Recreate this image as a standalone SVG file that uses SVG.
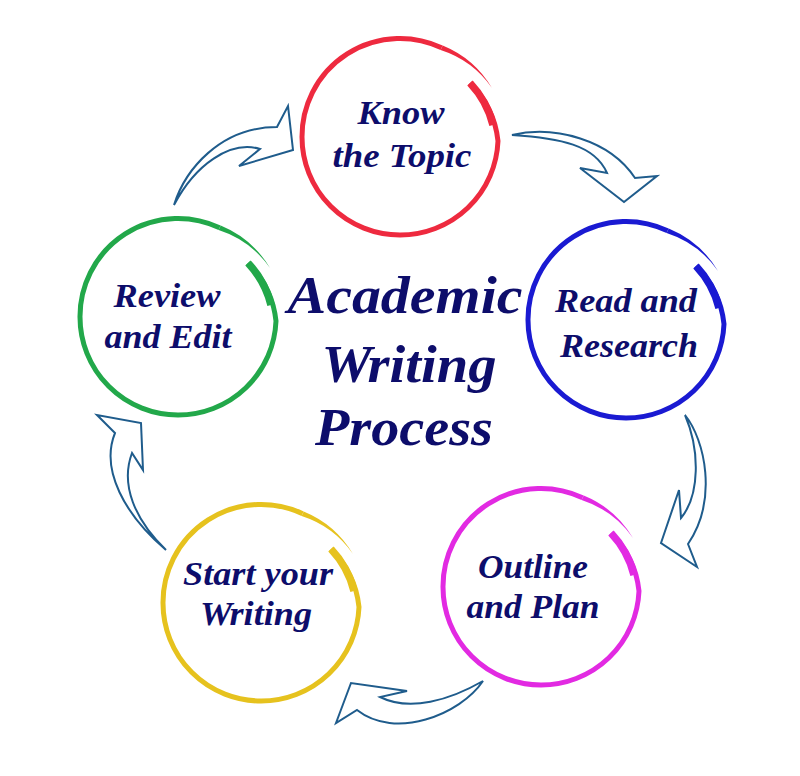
<svg xmlns="http://www.w3.org/2000/svg" xmlns:xlink="http://www.w3.org/1999/xlink" width="800" height="776" viewBox="0 0 800 776">
<style>
.ring{fill:none;stroke-width:5;stroke-linecap:butt}
.start{fill:none;stroke-width:7.5}
.tail{stroke:none}
.lbl{font-family:"Liberation Serif","Times New Roman",serif;font-weight:bold;font-style:italic;font-size:33px;fill:#0d0d6b;text-anchor:middle}
.title{font-family:"Liberation Serif","Times New Roman",serif;font-weight:bold;font-style:italic;font-size:53px;fill:#0d0d6b;text-anchor:middle}
.arr{fill:#fff;stroke:#1f5c8c;stroke-width:2;stroke-linejoin:miter}
</style>
<defs>
<g id="circ">
<path class="ring" d="M70,-54 A96 96 0 0 1 98,4 A98 98 0 0 1 0,98 A98 98 0 0 1 -98,0 A98 98 0 0 1 41.6,-89.3"/>
<path class="start" d="M70,-54 A95 95 0 0 1 93,-12"/>
<path class="tail" d="M42.7,-91.5 A103 103 0 0 1 92,-49 A100 100 0 0 0 40.6,-87 Z"/>
</g>
</defs>
<rect width="800" height="776" fill="#fff"/>
<g id="connectors">
<path class="arr" d="M512,135 C555,125 610,140 635,178 L657,176 L624,202 L580,168 L607,173 C595,145 560,138 512,135 Z"/>
<path class="arr" d="M685,415 C705,440 718,500 688,544 L697,567 L661,543 L679,490 L681,518 C700,495 700,450 685,415 Z"/>
<path class="arr" d="M483,681 C460,715 395,740 357,710 L336,723 L351,683 L407,691 L380,697 C410,712 450,700 483,681 Z"/>
<path class="arr" d="M166,550 C125,515 100,470 115,433 L97,415 L141,423 L143,470 L132,453 C120,485 135,520 166,550 Z"/>
<path class="arr" d="M174,205 C185,170 220,127 277,127 L288,106 L293,150 L239,166 L260,149 C230,140 195,165 174,205 Z"/>
</g>
<g id="title">
<text class="title" x="405" y="313" textLength="235" lengthAdjust="spacingAndGlyphs">Academic</text>
<text class="title" x="409" y="382" textLength="175" lengthAdjust="spacingAndGlyphs">Writing</text>
<text class="title" x="404" y="445" textLength="178" lengthAdjust="spacingAndGlyphs">Process</text>
</g>
<g id="know-topic">
<use href="#circ" xlink:href="#circ" transform="translate(400,137)" stroke="#ee2a3f" fill="#ee2a3f"/>
<text class="lbl" x="401" y="124" textLength="87" lengthAdjust="spacingAndGlyphs">Know</text>
<text class="lbl" x="402" y="167" textLength="139" lengthAdjust="spacingAndGlyphs">the Topic</text>
</g>
<g id="read-research">
<use href="#circ" xlink:href="#circ" transform="translate(626,320)" stroke="#1a1ad2" fill="#1a1ad2"/>
<text class="lbl" x="626" y="312" textLength="142" lengthAdjust="spacingAndGlyphs">Read and</text>
<text class="lbl" x="629" y="357" textLength="138" lengthAdjust="spacingAndGlyphs">Research</text>
</g>
<g id="outline-plan">
<use href="#circ" xlink:href="#circ" transform="translate(541,587)" stroke="#e22ae2" fill="#e22ae2"/>
<text class="lbl" x="533" y="578" textLength="110" lengthAdjust="spacingAndGlyphs">Outline</text>
<text class="lbl" x="533" y="618" textLength="133" lengthAdjust="spacingAndGlyphs">and Plan</text>
</g>
<g id="start-writing">
<use href="#circ" xlink:href="#circ" transform="translate(261,603)" stroke="#e6c21e" fill="#e6c21e"/>
<text class="lbl" x="258" y="585" textLength="150" lengthAdjust="spacingAndGlyphs">Start your</text>
<text class="lbl" x="256" y="625" textLength="112" lengthAdjust="spacingAndGlyphs">Writing</text>
</g>
<g id="review-edit">
<use href="#circ" xlink:href="#circ" transform="translate(178,317)" stroke="#22a84a" fill="#22a84a"/>
<text class="lbl" x="167" y="307" textLength="107" lengthAdjust="spacingAndGlyphs">Review</text>
<text class="lbl" x="168" y="348" textLength="127" lengthAdjust="spacingAndGlyphs">and Edit</text>
</g>
</svg>
